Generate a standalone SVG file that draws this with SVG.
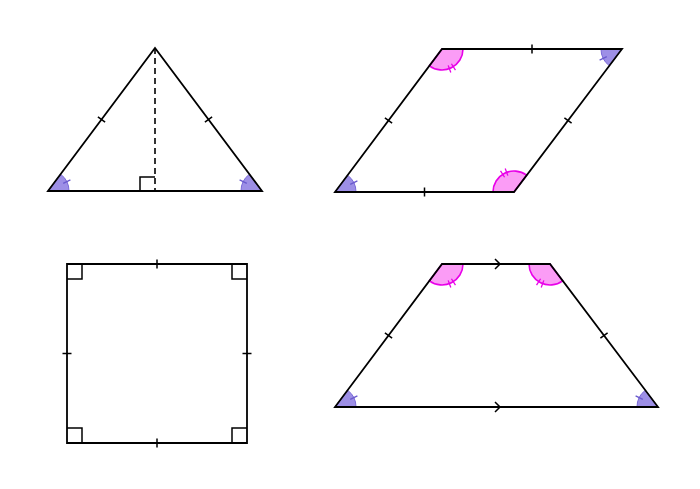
<svg xmlns="http://www.w3.org/2000/svg" xmlns:xlink="http://www.w3.org/1999/xlink" width="700" height="489" viewBox="0 0 700 489">
<style>
.out{fill:none;stroke:#000;stroke-width:1.8;stroke-linejoin:miter}
.thin{fill:none;stroke:#000;stroke-width:1.5}
.dash{fill:none;stroke:#000;stroke-width:1.6;stroke-dasharray:6,4}
.blue{fill:#9d8fe6;stroke:#7a6ad8;stroke-width:1}
.btick{stroke:#6a5acd;stroke-width:1.3;fill:none}
.mag{fill:#fb9cf6;stroke:#e800e8;stroke-width:1.6}
.mtick{stroke:#e800e8;stroke-width:1.3;fill:none}
</style>
<defs>
<line id="tick" x1="0" y1="-4.5" x2="0" y2="4.5" class="thin"/>
<path id="chev" d="M-3,-5 L2,0 L-3,5" class="thin"/>
<g id="acute">
<path class="blue" d="M0,0 L21,0 A21,21 0 0 0 12.58,-16.81 Z"/>
<line class="btick" x1="15.2" y1="-7.6" x2="22.4" y2="-11.2"/>
</g>
<g id="obtuse">
<path class="mag" d="M0,0 L21,0 A21,21 0 0 1 -12.58,16.81 Z"/>
<g transform="rotate(57.4)"><line class="mtick" x1="17.5" y1="0" x2="25" y2="0"/></g>
<g transform="rotate(69.4)"><line class="mtick" x1="17.5" y1="0" x2="25" y2="0"/></g>
</g>
</defs>
<rect width="700" height="489" fill="#fff"/>

<g id="triangle">
<use xlink:href="#acute" transform="translate(48,191)"/>
<use xlink:href="#acute" transform="translate(262,191) scale(-1,1)"/>
<line class="dash" x1="155" y1="48" x2="155" y2="191"/>
<path class="thin" d="M140,191 V177 H155"/>
<path class="out" d="M48,191 L155,48 L262,191 Z"/>
<use xlink:href="#tick" transform="translate(101.5,119.5) rotate(-53.13)"/>
<use xlink:href="#tick" transform="translate(208.5,119.5) rotate(53.13)"/>
</g>

<g id="parallelogram">
<use xlink:href="#acute" transform="translate(335,192)"/>
<use xlink:href="#acute" transform="translate(622,49) rotate(180)"/>
<use xlink:href="#obtuse" transform="translate(442,49)"/>
<use xlink:href="#obtuse" transform="translate(514,192) rotate(180)"/>
<path class="out" d="M335,192 L514,192 L622,49 L442,49 Z"/>
<use xlink:href="#tick" transform="translate(388.5,120.5) rotate(-53.13)"/>
<use xlink:href="#tick" transform="translate(568,120.5) rotate(-53.13)"/>
<use xlink:href="#tick" transform="translate(532,49)"/>
<use xlink:href="#tick" transform="translate(424.5,192)"/>
</g>

<g id="square">
<path class="out" d="M67,264 H247 V443 H67 Z"/>
<path class="thin" d="M82,264 V279 H67"/>
<path class="thin" d="M232,264 V279 H247"/>
<path class="thin" d="M82,443 V428 H67"/>
<path class="thin" d="M232,443 V428 H247"/>
<use xlink:href="#tick" transform="translate(157,264)"/>
<use xlink:href="#tick" transform="translate(157,443)"/>
<use xlink:href="#tick" transform="translate(67,353.5) rotate(90)"/>
<use xlink:href="#tick" transform="translate(247,353.5) rotate(90)"/>
</g>

<g id="trapezoid">
<use xlink:href="#acute" transform="translate(335,407)"/>
<use xlink:href="#acute" transform="translate(658,407) scale(-1,1)"/>
<use xlink:href="#obtuse" transform="translate(442,264)"/>
<use xlink:href="#obtuse" transform="translate(550,264) scale(-1,1)"/>
<path class="out" d="M335,407 L658,407 L550,264 L442,264 Z"/>
<use xlink:href="#tick" transform="translate(388.5,335.5) rotate(-53.13)"/>
<use xlink:href="#tick" transform="translate(604,335.5) rotate(53.13)"/>
<use xlink:href="#chev" transform="translate(498,264)"/>
<use xlink:href="#chev" transform="translate(498,407)"/>
</g>
</svg>
